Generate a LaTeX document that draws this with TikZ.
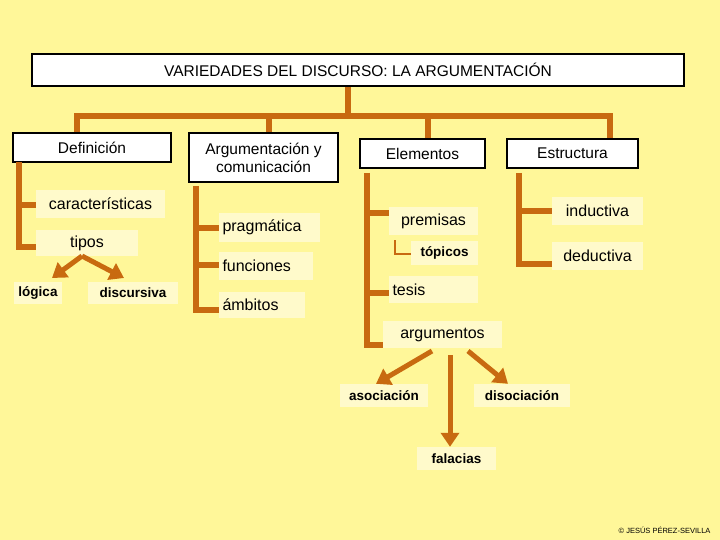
\documentclass[tikz,border=0pt]{standalone}
\usepackage{fontspec}
\setmainfont{Liberation Sans}
\usetikzlibrary{arrows.meta}
\definecolor{bg}{HTML}{FFF799}
\definecolor{lab}{HTML}{FFFACB}
\definecolor{br}{HTML}{C86A10}
\begin{document}
\begin{tikzpicture}[x=1pt,y=-1pt,
  hdr/.style={draw=black,line width=2.5pt,fill=white,inner sep=0pt,font=\fontsize{15.5}{18}\selectfont},
  lbl/.style={fill=lab,inner sep=0pt,font=\fontsize{16}{18}\selectfont},
  sml/.style={fill=lab,inner sep=0pt,font=\bfseries\fontsize{13.5}{15}\selectfont},
  bar/.style={draw=br,line width=6.5pt},
  thin/.style={draw=br,line width=2.5pt},
  arr/.style={draw=br,line width=5pt,-{Triangle[width=18pt,length=14pt]}}]
\fill[bg] (0,0) rectangle (720,540);
\useasboundingbox (0,0) rectangle (720,540);
% headers
\node[hdr,minimum width=652,minimum height=32] (title) at (358,70) {VARIEDADES DEL DISCURSO: LA ARGUMENTACIÓN};
\node[hdr,minimum width=158,minimum height=29] (def) at (92,147.5) {Definición};
\node[hdr,minimum width=149,minimum height=49,align=center] (arg) at (263.5,157.5) {Argumentación y\\comunicación};
\node[hdr,minimum width=125,minimum height=29] (ele) at (422.5,153.5) {Elementos};
\node[hdr,minimum width=131,minimum height=29] (est) at (572.5,153.5) {Estructura};
% trunk
\coordinate (t1) at (348,116);
\draw[bar] (title.south -| t1) -- (t1);
\draw[bar,line cap=rect] (77,116) -- (610,116);
\draw[bar] (77,116) -- (def.north -| 77,0);
\draw[bar] (269,116) -- (arg.north -| 269,0);
\draw[bar] (428,116) -- (ele.north -| 428,0);
\draw[bar] (610,116) -- (est.north -| 610,0);
% labels
\node[lbl,minimum width=129,minimum height=28] (car) at (100.5,204) {características};
\node[lbl,minimum width=102,minimum height=26] (tip) at (87,243) {tipos};
\node[sml,minimum width=48,minimum height=22] (log) at (38,293) {lógica};
\node[sml,minimum width=90,minimum height=22] (dis) at (133,293) {discursiva};
\node[lbl,minimum width=101,minimum height=29,text width=94] (pra) at (269.5,227.5) {pragmática};
\node[lbl,minimum width=94,minimum height=28,text width=87] (fun) at (266,266) {funciones};
\node[lbl,minimum width=86,minimum height=26,text width=79] (amb) at (262,305) {ámbitos};
\node[lbl,minimum width=89,minimum height=28] (pre) at (433.5,221) {premisas};
\node[sml,minimum width=67,minimum height=24] (top) at (444.5,253) {tópicos};
\node[lbl,minimum width=89,minimum height=27,text width=82] (tes) at (433.5,289.5) {tesis};
\node[lbl,minimum width=119,minimum height=27] (arm) at (442.5,334.5) {argumentos};
\node[sml,minimum width=88,minimum height=23] (aso) at (384,395.5) {asociación};
\node[sml,minimum width=96,minimum height=23] (dso) at (522,395.5) {disociación};
\node[sml,minimum width=79,minimum height=23] (fal) at (456.5,458.5) {falacias};
\node[lbl,minimum width=91,minimum height=28] (ind) at (597.5,211) {inductiva};
\node[lbl,minimum width=91,minimum height=28] (ded) at (597.5,256) {deductiva};
% brackets
\draw[bar] (19,162) |- (tip.west |- 0,247);
\draw[bar] (19,205) -- (car.west |- 0,205);
\draw[bar] (196,186) |- (amb.west |- 0,310);
\draw[bar] (196,228) -- (pra.west |- 0,228);
\draw[bar] (196,265) -- (fun.west |- 0,265);
\draw[bar] (367,173) |- (arm.west |- 0,345);
\draw[bar] (367,213) -- (pre.west |- 0,213);
\draw[bar] (367,293) -- (tes.west |- 0,293);
\draw[thin] (395,240) |- (top.west |- 0,254);
\draw[bar] (519,173) |- (ded.west |- 0,264);
\draw[bar] (519,211) -- (ind.west |- 0,211);
% arrows
\coordinate (ta) at (82,256);
\draw[arr] (ta) -- (52,278);
\draw[arr] (ta) -- (124,278);
\draw[arr] (432,351) -- (aso.north -| 376,0);
\draw[arr] (450,355) -- (fal.north -| 450,0);
\draw[arr] (468,351) -- (dso.north -| 508,0);
\node[anchor=east,font=\fontsize{7.5}{9}\selectfont] (cr) at (714,530) {© JESÚS PÉREZ-SEVILLA};
\end{tikzpicture}
\end{document}
